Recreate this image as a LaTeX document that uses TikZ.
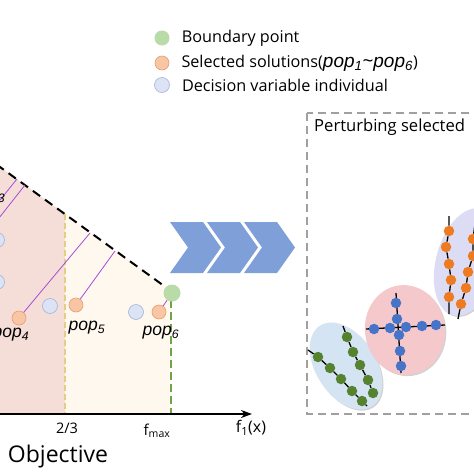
\documentclass[tikz,border=0pt]{standalone}
\usepackage{fontspec}
\setmainfont{Open Sans}
\newfontfamily\popfont{Liberation Sans}
\usetikzlibrary{arrows.meta, positioning, shapes.geometric, shadows}

\definecolor{bndgreen}{RGB}{184,219,168}
\definecolor{selorange}{RGB}{248,198,164}
\definecolor{selrim}{RGB}{232,156,112}
\definecolor{decblue}{RGB}{220,227,244}
\definecolor{decrim}{RGB}{164,180,219}
\definecolor{pinkreg}{RGB}{246,222,216}
\definecolor{creamreg}{RGB}{254,248,238}
\definecolor{yelline}{RGB}{228,206,134}
\definecolor{grnline}{RGB}{111,165,72}
\definecolor{purp}{RGB}{166,76,216}
\definecolor{chev}{RGB}{127,159,217}
\definecolor{boxgray}{RGB}{160,160,160}
\definecolor{ellblue}{RGB}{213,228,243}
\definecolor{ellpink}{RGB}{245,200,203}
\definecolor{elllav}{RGB}{220,221,245}
\definecolor{dgreen}{RGB}{85,130,47}
\definecolor{dblue}{RGB}{70,116,200}
\definecolor{dorange}{RGB}{238,122,34}

\begin{document}
\begin{tikzpicture}[x=1pt, y=-1pt,
    dot/.style={circle, inner sep=0pt, minimum size=#1},
    bndpt/.style={dot=17pt, fill=bndgreen},
    selpt/.style={dot=14pt, fill=selorange, draw=selrim, line width=0.6pt},
    decpt/.style={dot=15pt, fill=decblue, draw=decrim, line width=0.6pt},
    gdot/.style={dot=10.5pt, fill=dgreen},
    bdot/.style={dot=10.5pt, fill=dblue},
    odot/.style={dot=10.5pt, fill=dorange},
    chain/.style={line width=1.3pt, black},
    perp/.style={purp, line width=0.8pt},
    cloud/.style={ellipse, inner sep=0pt, drop shadow={shadow xshift=1.2pt, shadow yshift=-1.2pt, opacity=0.35}},
    poplabel/.style={font=\popfont\itshape\fontsize{17.5}{17}\selectfont, inner sep=0pt},
    legtext/.style={font=\fontsize{16.2}{18}\selectfont, inner sep=0pt, anchor=west}]
    \useasboundingbox (0,0) rectangle (474,474);
    \clip (0,0) rectangle (474,474);
    \fill[white] (0,0) rectangle (474,474);

    % Objective regions
    \fill[pinkreg] (-40,138) -- (65,214) -- (65,414) -- (-40,414) -- cycle;
    \fill[creamreg] (65,214) -- (171,291) -- (171,414) -- (65,414) -- cycle;
    \draw[yelline, line width=1.4pt, dash pattern=on 6pt off 3pt] (65,214) -- (65,414);
    \draw[grnline, line width=1.4pt, dash pattern=on 8pt off 4pt] (171,300) -- (171,414);

    % Pareto front
    \coordinate (fstart) at (-40,138);
    \coordinate (fend) at (171,291);
    \draw[line width=2pt, dash pattern=on 9pt off 6pt] (fstart) -- (fend);

    % Axis
    \coordinate (axstart) at (-5,414);
    \coordinate (axend) at (252,414);
    \draw[line width=1.8pt, -{Stealth[length=11pt, width=8pt]}] (axstart) -- (axend);
    \node (tick23) at (67,428) {\fontsize{14.5}{16}\selectfont 2/3};
    \node (tickmax) at (157,431) {\fontsize{15}{16}\selectfont f\textsubscript{max}};
    \node (axlabel) at (251,428) {\fontsize{16}{16}\selectfont f\textsubscript{1}(x)};
    \node (objective) at (58,457) {\fontsize{23}{24}\selectfont Objective};

    % Feet on the front
    \coordinate (foot1) at (17,179);
    \coordinate (foot2) at (25,185);
    \coordinate (foot4) at (90,233);
    \coordinate (foot5) at (115,251);
    \coordinate (base1) at (-12,215);
    \coordinate (base2) at (-12,232);

    % Individuals and selected solutions
    \node[decpt] (dec1) at (-3,240) {};
    \node[decpt] (dec2) at (-3,282) {};
    \node[decpt] (dec3) at (50,306) {};
    \node[decpt] (dec4) at (136,312) {};
    \node[selpt] (pop4) at (19,318) {};
    \node[selpt] (pop5) at (76,305) {};
    \node[selpt] (pop6) at (159,312) {};
    \node[bndpt] (bnd) at (172,293) {};

    \draw[perp] (base1) -- (foot1);
    \draw[perp] (base2) -- (foot2);
    \draw[perp] (pop4) -- (foot4);
    \draw[perp] (pop5) -- (foot5);
    \draw[perp] (pop6) -- (bnd);

    \node[poplabel] (lab3) at (-13,197) {pop\textsubscript{3}};
    \node[poplabel] (lab4) at (11,335) {pop\textsubscript{4}};
    \node[poplabel] (lab5) at (87,328) {pop\textsubscript{5}};
    \node[poplabel] (lab6) at (161,333) {pop\textsubscript{6}};

    % Legend
    \node[bndpt, dot=15pt] (legbnd) at (162,38) {};
    \node[selpt] (legsel) at (162,63) {};
    \node[decpt] (legdec) at (162,85) {};
    \node[legtext, right=12pt of legbnd] (txtbnd) {Boundary point};
    \node[legtext, right=12pt of legsel] (txtsel) {Selected solutions({\popfont\itshape\fontsize{19}{18}\selectfont pop\textsubscript{1}}{\fontsize{19}{18}\selectfont\textasciitilde}{\popfont\itshape\fontsize{19}{18}\selectfont pop\textsubscript{6}})};
    \node[legtext, right=12pt of legdec] (txtdec) {Decision variable individual};

    % Chevrons
    \foreach \i in {0,1,2}
        \fill[chev] ({170+37*\i},222) -- ({203+37*\i},222) -- ({221+37*\i},247.5)
            -- ({203+37*\i},273) -- ({170+37*\i},273) -- ({188+37*\i},247.5) -- cycle;

    % Perturbation panel
    \draw[boxgray, line width=1.4pt, dash pattern=on 8pt off 5pt] (307,113) rectangle (490,414);
    \node[legtext, font=\fontsize{16.6}{18}\selectfont] (ptitle) at (314,127) {Perturbing selected};

    \node[cloud, fill=ellblue, minimum width=96pt, minimum height=60pt, rotate=-57] (cgreen) at (346,366) {};
    \node[cloud, fill=ellpink, minimum width=80pt, minimum height=90pt, rotate=8] (cpink) at (405,330) {};
    \node[cloud, fill=elllav, minimum width=110pt, minimum height=62pt, rotate=75] (clav) at (467,262) {};

    % Green chains
    \coordinate (gas) at (308,350);
    \coordinate (gae) at (367,406);
    \coordinate (gbs) at (343,326);
    \node[gdot] (ga1) at (318,357) {};
    \node[gdot] (ga2) at (330,368) {};
    \node[gdot] (ga3) at (341,379) {};
    \node[gdot] (ga4) at (352,391) {};
    \node[gdot] (ga5) at (362,401) {};
    \node[gdot] (gb1) at (347,337) {};
    \node[gdot] (gb2) at (353,352) {};
    \node[gdot] (gb3) at (360,365) {};
    \node[gdot] (gb4) at (368,380) {};
    \node[gdot] (gb5) at (373,393) {};
    \draw[chain] (gas) -- (ga1) -- (ga2) -- (ga3) -- (ga4) -- (ga5) -- (gae);
    \draw[chain] (gbs) -- (gb1) -- (gb2) -- (gb3) -- (gb4) -- (gb5);

    % Blue cross
    \coordinate (bvs) at (396,293);
    \coordinate (bve) at (401,373);
    \coordinate (bhs) at (366,329);
    \coordinate (bhe) at (445,325);
    \draw[chain] (bvs) -- (bve);
    \draw[chain] (bhs) -- (bhe);
    \foreach \p [count=\k] in {(396,303),(397,319),(399,335),(400,351),(401,366)}
        \node[bdot] (bv\k) at \p {};
    \foreach \p [count=\k] in {(374,329),(390,328),(406,327),(422,326),(436,325)}
        \node[bdot] (bh\k) at \p {};

    % Orange chains
    \coordinate (oas) at (449,216);
    \coordinate (oae) at (449,314);
    \coordinate (obs) at (475,224);
    \coordinate (obe) at (458,319);
    \node[odot] (oa1) at (449,231) {};
    \node[odot] (oa2) at (446,247) {};
    \node[odot] (oa3) at (449,264) {};
    \node[odot] (oa4) at (451,280) {};
    \node[odot] (oa5) at (449,297) {};
    \node[odot] (ob1) at (473,239) {};
    \node[odot] (ob2) at (473,256) {};
    \node[odot] (ob3) at (468,272) {};
    \node[odot] (ob4) at (466,288) {};
    \node[odot] (ob5) at (461,304) {};
    \draw[chain] (oas) -- (oa1) -- (oa2) -- (oa3) -- (oa4) -- (oa5) -- (oae);
    \draw[chain] (obs) -- (ob1) -- (ob2) -- (ob3) -- (ob4) -- (ob5) -- (obe);
\end{tikzpicture}
\end{document}
